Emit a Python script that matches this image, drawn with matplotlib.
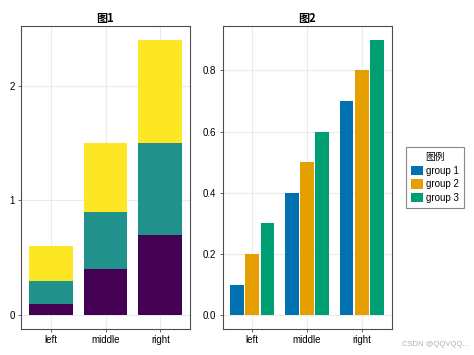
import numpy as np
import matplotlib.pyplot as plt
from matplotlib.patches import Patch

plt.rcParams['font.family'] = ['Liberation Sans', 'Noto Sans CJK SC', 'DejaVu Sans']

categories = ['left', 'middle', 'right']
group_names = ['group 1', 'group 2', 'group 3']
# values per group, one value per category
group1 = [0.1, 0.4, 0.7]
group2 = [0.2, 0.5, 0.8]
group3 = [0.3, 0.6, 0.9]

stack_colors = ['#440154', '#21918c', '#fde725']
dodge_colors = ['#0072b2', '#e69f00', '#009e73']

grid_c = '#ebebeb'
spine_c = '#4d4d4d'
fs = 7

fig = plt.figure(figsize=(4.74, 3.55), dpi=100)
ax1 = fig.add_axes([21 / 474, 1 - 329 / 355, 169 / 474, 303 / 355])
ax2 = fig.add_axes([222.5 / 474, 1 - 329 / 355, 169 / 474, 303 / 355])

x = np.arange(1, len(categories) + 1)
groups = [group1, group2, group3]

# stacked bars
bottom = np.zeros(len(categories))
for vals, c in zip(groups, stack_colors):
    ax1.bar(x, vals, width=0.8, bottom=bottom, color=c, zorder=2)
    bottom = bottom + np.array(vals)
top = bottom.max()
ax1.set_ylim(-0.05 * top, 1.05 * top)
ax1.set_yticks([0, 1, 2])
ax1.set_yticklabels(['0', '1', '2'])

# dodged bars
gap = 0.03
w = (0.8 - 2 * gap) / 3
for i, (vals, c) in enumerate(zip(groups, dodge_colors)):
    ax2.bar(x + (i - 1) * (w + gap), vals, width=w, color=c, zorder=2)
top2 = max(max(g) for g in groups)
ax2.set_ylim(-0.05 * top2, 1.05 * top2)
ax2.set_yticks([0, 0.2, 0.4, 0.6, 0.8])
ax2.set_yticklabels(['0.0', '0.2', '0.4', '0.6', '0.8'])

for ax, title in [(ax1, '图1'), (ax2, '图2')]:
    ax.set_xlim(0.6 - 0.05 * 2.8, 3.4 + 0.05 * 2.8)
    ax.set_xticks(x)
    ax.set_xticklabels(categories)
    ax.grid(True, color=grid_c, linewidth=0.8, zorder=0)
    ax.set_axisbelow(True)
    for s in ax.spines.values():
        s.set_color(spine_c)
        s.set_linewidth(0.8)
    ax.tick_params(labelsize=fs, length=2.5, width=0.6, color=spine_c, pad=2)
    ax.set_title(title, fontsize=8, fontweight='bold', pad=3,
                 family=['Noto Sans CJK SC', 'DejaVu Sans'])

handles = [Patch(facecolor=c, label=n) for c, n in zip(dodge_colors, group_names)]
leg = fig.legend(handles=handles, title='图例', loc='center left',
                 bbox_to_anchor=(406 / 474, 1 - 177.5 / 355), fontsize=fs,
                 title_fontsize=fs, fancybox=False, edgecolor='#888888',
                 framealpha=1, handlelength=1.15, handleheight=1.15,
                 handletextpad=0.35, labelspacing=0.35, borderpad=0.55,
                 borderaxespad=0)
leg.get_frame().set_linewidth(0.8)

fig.text(402 / 474, 1 - 345 / 355, 'CSDN @QQVQQ...', fontsize=5.5,
         color='#b0b0b0', va='center')

fig.savefig('out.png', dpi=100)
